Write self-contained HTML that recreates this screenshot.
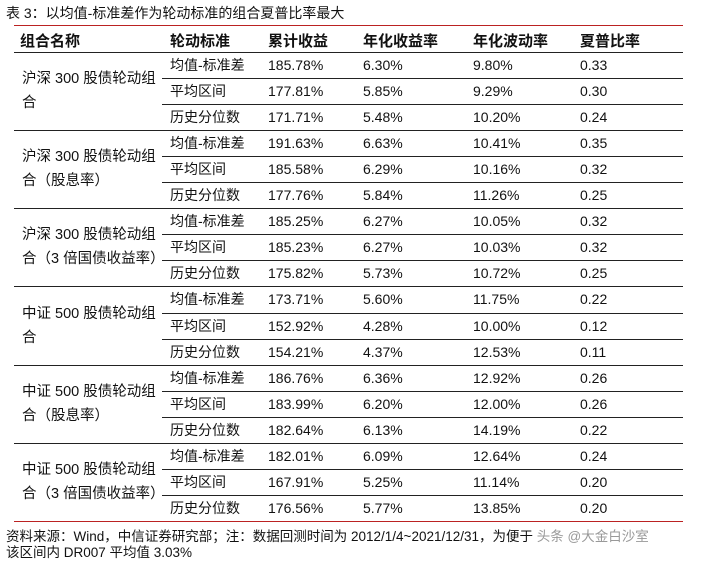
<!DOCTYPE html>
<html><head><meta charset="utf-8"><style>
body{margin:0;width:701px;height:566px;background:#fff;position:relative;overflow:hidden;font-family:"Liberation Sans","Noto Sans CJK SC",sans-serif;color:#111;}
.t{position:absolute;white-space:nowrap;font-size:14px;line-height:16px;}
.l{position:absolute;height:1px;background:#222;}
.h{font-weight:bold;font-size:15px;}
</style></head><body>
<div class="t" style="left:6px;top:5px;font-size:14px;">表 3：以均值-标准差作为轮动标准的组合夏普比率最大</div>
<div class="l" style="left:14px;top:25px;width:669px;background:#b22;"></div>
<div class="t h" style="left:20px;top:34px;">组合名称</div>
<div class="t h" style="left:170px;top:34px;">轮动标准</div>
<div class="t h" style="left:268px;top:34px;">累计收益</div>
<div class="t h" style="left:363px;top:34px;">年化收益率</div>
<div class="t h" style="left:473px;top:34px;">年化波动率</div>
<div class="t h" style="left:580px;top:34px;">夏普比率</div>
<div class="l" style="left:14px;top:52px;width:669px;"></div>
<div id="rows"></div>
<div class="l" style="left:14px;top:521px;width:669px;background:#b22;"></div>
<div class="t" style="left:6px;top:529px;font-size:13.5px;">资料来源：Wind，中信证券研究部；注：数据回测时间为 2012/1/4~2021/12/31，为便于 <span style="color:#999">头条 @大金白沙室</span></div>
<div class="t" style="left:6px;top:545px;font-size:13.5px;">该区间内 DR007 平均值 3.03%</div>
<script>
(function(){
var g=[["沪深 300 股债轮动组","合"],["沪深 300 股债轮动组","合（股息率）"],["沪深 300 股债轮动组","合（3 倍国债收益率）"],["中证 500 股债轮动组","合"],["中证 500 股债轮动组","合（股息率）"],["中证 500 股债轮动组","合（3 倍国债收益率）"]];
var d=[["185.78%","6.30%","9.80%","0.33"],["177.81%","5.85%","9.29%","0.30"],["171.71%","5.48%","10.20%","0.24"],
["191.63%","6.63%","10.41%","0.35"],["185.58%","6.29%","10.16%","0.32"],["177.76%","5.84%","11.26%","0.25"],
["185.25%","6.27%","10.05%","0.32"],["185.23%","6.27%","10.03%","0.32"],["175.82%","5.73%","10.72%","0.25"],
["173.71%","5.60%","11.75%","0.22"],["152.92%","4.28%","10.00%","0.12"],["154.21%","4.37%","12.53%","0.11"],
["186.76%","6.36%","12.92%","0.26"],["183.99%","6.20%","12.00%","0.26"],["182.64%","6.13%","14.19%","0.22"],
["182.01%","6.09%","12.64%","0.24"],["167.91%","5.25%","11.14%","0.20"],["176.56%","5.77%","13.85%","0.20"]];
var c=["均值-标准差","平均区间","历史分位数"],x=[268,363,473,580],h="",R=26.05;
for(var k=0;k<18;k++){var rt=52+R*k,ty=rt+5;
h+='<div class="t" style="left:170px;top:'+ty+'px">'+c[k%3]+'</div>';
for(var j=0;j<4;j++)h+='<div class="t" style="left:'+x[j]+'px;top:'+ty+'px">'+d[k][j]+'</div>';
if(k<17){var full=(k%3==2);h+='<div class="l" style="left:'+(full?14:162)+'px;top:'+Math.round(rt+R)+'px;width:'+(full?669:521)+'px"></div>';}
if(k%3==1){var cy=rt+R/2;h+='<div class="t" style="left:22px;top:'+(cy-20)+'px;font-size:14.5px">'+g[(k-1)/3][0]+'</div><div class="t" style="left:22px;top:'+(cy+4)+'px;font-size:14.5px">'+g[(k-1)/3][1]+'</div>';}}
document.getElementById("rows").innerHTML=h;
})();
</script>
</body></html>
